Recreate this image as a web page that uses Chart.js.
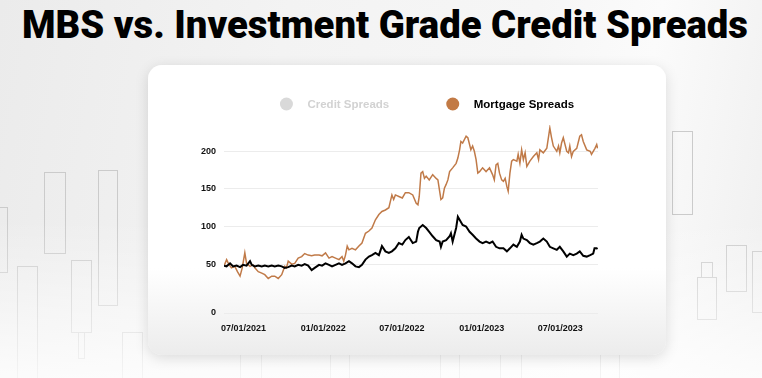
<!DOCTYPE html>
<html>
<head>
<meta charset="utf-8">
<script src="https://cdn.jsdelivr.net/npm/chart.js@4.4.1/dist/chart.umd.min.js"></script>
<style>
html,body{margin:0;padding:0;}
body{width:762px;height:378px;overflow:hidden;position:relative;
  background:linear-gradient(100deg,#ebebeb 0%,#f3f3f3 35%,#f6f6f6 65%,#fbfbfb 80%,#efefef 100%);
  font-family:'Liberation Sans',Arial,sans-serif;}
.c{position:absolute;border:1.5px solid #cbcbcb;box-sizing:border-box;}
#fade{position:absolute;left:0;top:220px;width:762px;height:158px;
  background:linear-gradient(to bottom,rgba(255,255,255,0),rgba(255,255,255,0.8));}
#title{position:absolute;left:0;top:6px;white-space:nowrap;font-family:Roboto,'Liberation Sans',Arial,sans-serif;font-weight:900;font-size:38px;line-height:38px;color:#000;transform-origin:0 0;}
#card{position:absolute;left:148px;top:65px;width:518px;height:290px;border-radius:14px;
  background:linear-gradient(to bottom,#ffffff 0%,#ffffff 70%,#ececec 100%);
  box-shadow:0 3px 14px rgba(0,0,0,0.13);overflow:hidden;}
#chart{position:absolute;left:0;top:0;}
</style>
</head>
<body>
<!-- decorative candlestick outlines in the background -->
<div class="c" style="left:-4px;top:207px;width:12px;height:66px;"></div>
<div class="c" style="left:17px;top:266px;width:21px;height:120px;"></div>
<div class="c" style="left:44px;top:172px;width:22px;height:82px;"></div>
<div class="c" style="left:71px;top:260px;width:21px;height:73px;"></div>
<div class="c" style="left:78px;top:332px;width:7px;height:27px;"></div>
<div class="c" style="left:98px;top:170px;width:20px;height:136px;"></div>
<div class="c" style="left:122px;top:332px;width:21px;height:60px;"></div>
<div class="c" style="left:672px;top:131px;width:21px;height:84px;"></div>
<div class="c" style="left:701px;top:262px;width:12px;height:16px;"></div>
<div class="c" style="left:697px;top:277px;width:20px;height:43px;"></div>
<div class="c" style="left:726px;top:245px;width:21px;height:47px;"></div>
<div class="c" style="left:752px;top:251px;width:20px;height:62px;"></div>
<div class="c" style="left:240px;top:350px;width:22px;height:40px;"></div>
<div class="c" style="left:330px;top:348px;width:20px;height:40px;"></div>
<div class="c" style="left:440px;top:350px;width:20px;height:40px;"></div>
<div class="c" style="left:500px;top:348px;width:22px;height:40px;"></div>
<div class="c" style="left:600px;top:350px;width:20px;height:40px;"></div>
<div id="fade"></div>
<div id="title">MBS vs. Investment Grade Credit Spreads</div>
<div id="card"><canvas id="chart" width="518" height="290"></canvas></div>
<script>
// ---------------- data (x = days since 07/01/2021) ----------------
const seriesLabels = ['Credit Spreads', 'Mortgage Spreads'];

const creditDays = [-45,-39,-31,-24,-16,-8,-1,7,15,19,26,34,42,49,57,65,72,80,88,95,103,111,118,126,134,141,149,157,164,174,181,189,197,204,212,220,227,235,243,250,258,266,273,281,289,296,304,312,319,327,335,342,350,358,366,373,381,390,398,402,405,413,421,428,436,444,452,455,459,467,475,478,482,490,494,498,505,513,521,528,536,544,551,559,567,574,582,590,599,607,614,622,630,637,641,645,653,660,668,676,683,691,699,706,714,722,729,737,745,752,760,768,775,783,791,799,806,809,814,816];
const creditValues = [48,47,51,47,48,46,49,48,54,49,47,48,47,48,47,48,47,48,47,45,46,48,47,49,48,50,48,42,45,49,48,51,49,47,49,51,49,51,54,51,47,46,49,56,60,62,65,62,74,67,65,67,71,78,76,82,86,78,80,93,98,102,98,93,87,82,80,73,80,82,87,91,80,98,113,109,102,100,93,89,84,80,78,80,78,80,73,71,71,67,71,76,73,80,89,84,82,78,76,78,80,84,80,73,71,69,73,67,60,64,62,64,67,61,60,62,64,71,71,70];

const mortgageDays = [-44,-39,-35,-28,-20,-14,-8,-3,3,7,15,22,26,34,42,49,57,65,72,80,88,95,99,103,111,118,126,134,141,149,157,164,174,181,189,197,204,212,220,227,231,235,239,243,250,258,266,273,281,289,296,304,312,319,327,335,342,346,350,358,366,373,381,390,398,402,405,409,413,417,421,428,436,444,448,452,455,459,463,467,471,475,482,490,494,498,501,505,513,517,521,524,528,532,536,540,544,551,559,567,574,578,582,586,590,595,599,603,607,610,614,618,622,630,633,637,641,645,649,653,660,668,676,680,683,691,699,706,710,714,722,726,729,733,737,741,745,749,752,756,760,768,775,779,783,791,799,802,806,810,814,816];
const mortgageValues = [49,56,51,45,47,40,34,45,65,51,47,49,45,40,38,36,31,34,34,31,36,47,45,54,50,51,58,60,64,62,61,62,62,61,65,58,60,58,56,60,54,62,74,69,71,69,74,78,91,94,98,109,116,120,122,125,142,136,142,140,138,145,145,142,131,129,140,171,173,164,167,162,169,164,162,147,136,138,151,156,162,173,178,184,191,202,213,211,220,218,209,202,207,200,189,171,173,178,173,178,169,162,182,184,171,162,160,164,153,147,171,187,189,187,196,184,202,189,198,180,187,193,198,189,202,198,204,231,218,207,200,207,198,211,218,209,200,198,207,193,200,204,220,222,213,202,200,196,200,204,209,204];

const xTickDays = [0, 184, 365, 549, 730];
const xTickLabels = ['07/01/2021', '01/01/2022', '07/01/2022', '01/01/2023', '07/01/2023'];
const yTickValues = [0, 50, 100, 150, 200];
const yTickLabels = ['0', '50', '100', '150', '200'];

// ---------------- styling ----------------
const lineColors = ['#000000', '#c07a48'];
const legendDotColors = ['#d9d9d9', '#c27a45'];
const legendTextColors = ['#d2d2d2', '#000000'];
const Y_MIN = -15;   // zero tick sits at the plot floor (broken axis below 50, as in the reference)
const Y_MAX = 235;

const toPoints = (xs, ys) => xs.map((d, i) => ({x: d, y: ys[i]}));

const legendPlugin = {
  id: 'topLegend',
  afterDraw(chart) {
    const ctx = chart.ctx;
    ctx.save();
    ctx.font = 'bold 11.5px "Liberation Sans", Arial, sans-serif';
    const r = 6.5, gapText = 14.5, gapItem = 57, cy = 39, centerX = 279;
    const items = chart.data.datasets.map((ds, i) => ({text: ds.label, dot: legendDotColors[i], color: legendTextColors[i]}));
    const widths = items.map(it => 2 * r + gapText + ctx.measureText(it.text).width);
    const total = widths.reduce((a, b) => a + b, 0) + gapItem * (items.length - 1);
    let x = centerX - total / 2;
    items.forEach((it, i) => {
      ctx.fillStyle = it.dot;
      ctx.beginPath(); ctx.arc(x + r, cy, r, 0, Math.PI * 2); ctx.fill();
      ctx.fillStyle = it.color;
      ctx.textBaseline = 'middle'; ctx.textAlign = 'left';
      ctx.fillText(it.text, x + 2 * r + gapText, cy + 0.5);
      x += widths[i] + gapItem;
    });
    ctx.restore();
  }
};

const tickFont = {family: "'Liberation Sans Narrow','Liberation Sans',Arial,sans-serif", weight: 'bold', size: 9};

new Chart(document.getElementById('chart'), {
  type: 'line',
  data: {
    datasets: [
      {label: seriesLabels[0], data: toPoints(creditDays, creditValues), borderColor: lineColors[0], borderWidth: 2, pointRadius: 0, tension: 0, fill: false},
      {label: seriesLabels[1], data: toPoints(mortgageDays, mortgageValues), borderColor: lineColors[1], borderWidth: 1.5, pointRadius: 0, tension: 0, fill: false}
    ]
  },
  options: {
    responsive: false,
    animation: false,
    devicePixelRatio: 1,
    layout: {padding: {left: 0, right: 68, top: 60, bottom: 12}},
    plugins: {legend: {display: false}, tooltip: {enabled: false}, title: {display: false}},
    scales: {
      x: {
        type: 'linear', min: -45, max: 817,
        afterBuildTicks: s => { s.ticks = xTickDays.map(v => ({value: v})); },
        afterFit: s => { s.height = 30; },
        ticks: {callback: (v, i) => xTickLabels[i], color: '#111', font: tickFont, padding: 10, maxRotation: 0, autoSkip: false},
        grid: {display: false, drawTicks: false},
        border: {display: false}
      },
      y: {
        type: 'linear', min: Y_MIN, max: Y_MAX,
        afterBuildTicks: s => { s.ticks = yTickValues.map(v => ({value: v === 0 ? Y_MIN : v})); },
        afterFit: s => { s.width = 76; },
        ticks: {callback: (v, i) => yTickLabels[i], color: '#111', font: tickFont, padding: 8, autoSkip: false},
        grid: {color: '#ececec', lineWidth: 1, drawTicks: false},
        border: {display: false}
      }
    }
  },
  plugins: [legendPlugin]
});

// fit the title to the reference width
const t = document.getElementById('title');
const w = t.getBoundingClientRect().width;
const target = 726;
t.style.transform = 'translateX(22px) scaleX(' + (target / w) + ')';
</script>
</body>
</html>
